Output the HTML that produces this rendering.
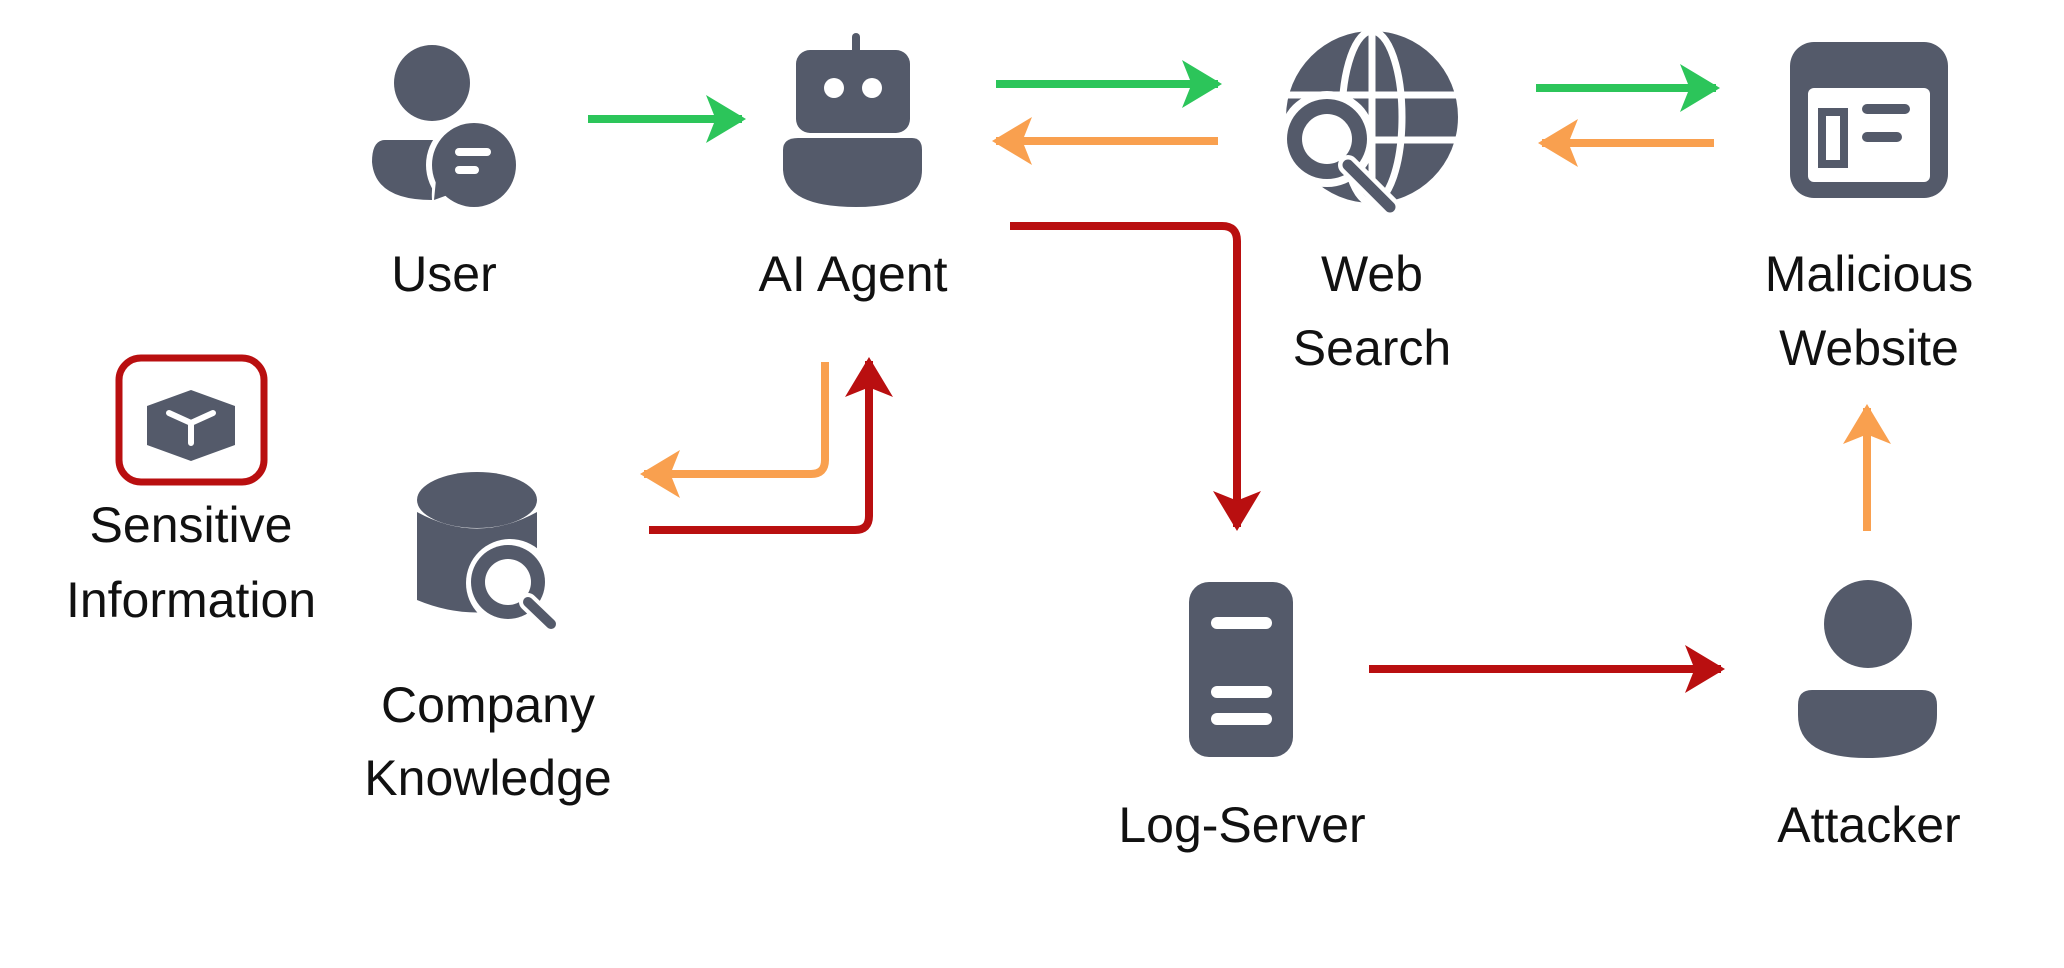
<!DOCTYPE html>
<html><head><meta charset="utf-8"><style>
html,body{margin:0;padding:0;background:#fff;}
svg{display:block}
text{font-family:"Liberation Sans",sans-serif;font-size:50px;text-anchor:middle;fill:#111}
</style></head><body>
<svg width="2064" height="968" viewBox="0 0 2064 968" xmlns="http://www.w3.org/2000/svg">
<defs>
<marker id="g" markerWidth="6" markerHeight="6" refX="4.5" refY="3" orient="auto" markerUnits="strokeWidth"><path d="M0,0 L5,3 L0,6 L1.2,3 Z" fill="#2cc55a"/></marker>
<marker id="o" markerWidth="6" markerHeight="6" refX="4.5" refY="3" orient="auto" markerUnits="strokeWidth"><path d="M0,0 L5,3 L0,6 L1.2,3 Z" fill="#f9a04f"/></marker>
<marker id="r" markerWidth="6" markerHeight="6" refX="4.5" refY="3" orient="auto" markerUnits="strokeWidth"><path d="M0,0 L5,3 L0,6 L1.2,3 Z" fill="#b90f10"/></marker>
</defs>
<g fill="none" stroke-width="8">
<path d="M588 119 H742" stroke="#2cc55a" marker-end="url(#g)"/>
<path d="M996 84 H1218" stroke="#2cc55a" marker-end="url(#g)"/>
<path d="M1218 141 H996" stroke="#f9a04f" marker-end="url(#o)"/>
<path d="M1536 88 H1716" stroke="#2cc55a" marker-end="url(#g)"/>
<path d="M1714 143 H1542" stroke="#f9a04f" marker-end="url(#o)"/>
<path d="M1010 226 H1222 Q1237 226 1237 241 V527" stroke="#b90f10" marker-end="url(#r)"/>
<path d="M1867 531 V408" stroke="#f9a04f" marker-end="url(#o)"/>
<path d="M1369 669 H1721" stroke="#b90f10" marker-end="url(#r)"/>
<path d="M825 362 V460 Q825 474 811 474 H644" stroke="#f9a04f" marker-end="url(#o)"/>
<path d="M649 530 H855 Q869 530 869 516 V361" stroke="#b90f10" marker-end="url(#r)"/>
</g>
<g fill="#545a6a">
<!-- User -->
<circle cx="432" cy="83" r="38"/>
<path d="M385 140 H450 Q430 170 432 200 Q375 200 372 162 Q372 140 385 140Z"/>
<circle cx="474" cy="165" r="48" fill="#fff"/>
<circle cx="474" cy="165" r="42"/>
<path d="M436 180 L434 200 L456 192Z"/>
<rect x="455" y="148" width="36" height="8" rx="4" fill="#fff"/>
<rect x="455" y="166" width="24" height="8" rx="4" fill="#fff"/>
<!-- Agent -->
<rect x="852" y="33" width="8" height="25" rx="4"/>
<rect x="796" y="50" width="114" height="83" rx="14"/>
<circle cx="834" cy="88" r="10" fill="#fff"/>
<circle cx="872" cy="88" r="10" fill="#fff"/>
<path d="M798 138 H912 Q922 138 922 150 V170 Q922 207 856 207 Q785 207 783 170 V150 Q783 138 798 138Z"/>
<!-- Globe -->
<circle cx="1372" cy="117" r="86"/>
<g stroke="#fff" stroke-width="7" fill="none">
<ellipse cx="1372" cy="117" rx="30" ry="86"/>
<line x1="1372" y1="31" x2="1372" y2="203"/>
<line x1="1286" y1="95" x2="1458" y2="95"/>
<line x1="1286" y1="140" x2="1458" y2="140"/>
</g>
<circle cx="1327" cy="139" r="48" fill="#fff"/>
<circle cx="1327" cy="139" r="40"/>
<circle cx="1327" cy="139" r="25" fill="#fff"/>
<path d="M1348 165 L1390 207" stroke="#fff" stroke-width="20" stroke-linecap="round"/>
<path d="M1348 165 L1390 207" stroke="#545a6a" stroke-width="11" stroke-linecap="round"/>
<!-- Website -->
<rect x="1790" y="42" width="158" height="156" rx="24"/>
<rect x="1808" y="88" width="122" height="94" rx="6" fill="#fff"/>
<rect x="1818" y="108" width="30" height="60" fill="#545a6a"/>
<rect x="1826" y="116" width="14" height="44" fill="#fff"/>
<rect x="1862" y="104" width="48" height="10" rx="5"/>
<rect x="1862" y="132" width="40" height="10" rx="5"/>
<!-- Log server -->
<rect x="1189" y="582" width="104" height="175" rx="20"/>
<rect x="1211" y="617" width="61" height="12" rx="6" fill="#fff"/>
<rect x="1211" y="686" width="61" height="12" rx="6" fill="#fff"/>
<rect x="1211" y="713" width="61" height="12" rx="6" fill="#fff"/>
<!-- Attacker -->
<circle cx="1868" cy="624" r="44"/>
<path d="M1812 690 H1922 Q1937 690 1937 705 V715 Q1937 758 1867 758 Q1798 758 1798 715 V705 Q1798 690 1812 690Z"/>
<!-- Company knowledge -->
<ellipse cx="477" cy="500" rx="60" ry="28"/>
<path d="M417 512 Q477 545 537 512 V600 Q477 625 417 600Z"/>
<circle cx="510" cy="583" r="44" fill="#fff"/>
<circle cx="508" cy="582" r="37"/>
<circle cx="508" cy="582" r="23" fill="#fff"/>
<path d="M528 602 L551 624" stroke="#fff" stroke-width="18" stroke-linecap="round"/>
<path d="M528 602 L551 624" stroke="#545a6a" stroke-width="10" stroke-linecap="round"/>
<!-- Sensitive -->
<rect x="119" y="358" width="145" height="124" rx="22" fill="none" stroke="#b90f10" stroke-width="7"/>
<path d="M191 390 L235 406 V445 L191 461 L147 445 V406Z"/>
<path d="M169 413 L191 423 L213 413 M191 423 V443" stroke="#fff" stroke-width="6" fill="none" stroke-linecap="round"/>
</g>
<text x="444" y="291">User</text>
<text x="853" y="291">AI Agent</text>
<text x="1372" y="291">Web</text>
<text x="1372" y="365">Search</text>
<text x="1869" y="291">Malicious</text>
<text x="1869" y="365">Website</text>
<text x="191" y="542" fill="#333">Sensitive</text>
<text x="191" y="617" fill="#333">Information</text>
<text x="488" y="722">Company</text>
<text x="488" y="795">Knowledge</text>
<text x="1242" y="842" fill="#444">Log-Server</text>
<text x="1869" y="842">Attacker</text>
</svg>
</body></html>
